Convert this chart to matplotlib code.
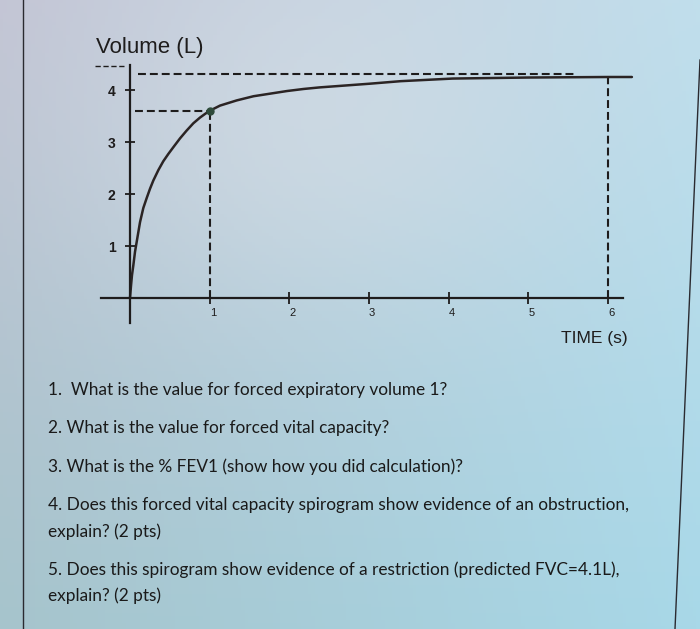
import numpy as np
import matplotlib.pyplot as plt
from matplotlib.lines import Line2D

# Spirogram
time_s = [0, 0.013, 0.025, 0.042, 0.063, 0.084, 0.105, 0.126, 0.167, 0.209, 0.251,
          0.293, 0.356, 0.418, 0.481, 0.544, 0.628, 0.711, 0.795, 0.879, 0.942, 1.0,
          1.13, 1.34, 1.55, 1.76, 1.97, 2.18, 2.38, 3.0, 3.4, 4.05, 5.0, 6.0, 6.3]
volume_l = [0, 0.24, 0.44, 0.63, 0.89, 1.08, 1.27, 1.46, 1.73, 1.92, 2.10,
            2.26, 2.46, 2.63, 2.77, 2.90, 3.07, 3.22, 3.36, 3.47, 3.54, 3.6,
            3.7, 3.8, 3.88, 3.93, 3.98, 4.02, 4.05, 4.12, 4.17, 4.22, 4.24, 4.25, 4.25]
fev1 = 3.6
fvc = 4.3
fvc_time = 6.0
x_ticks = [1, 2, 3, 4, 5, 6]
y_ticks = [1, 2, 3, 4]

questions = [
    "1.  What is the value for forced expiratory volume 1?",
    "2. What is the value for forced vital capacity?",
    "3. What is the % FEV1 (show how you did calculation)?",
    "4. Does this forced vital capacity spirogram show evidence of an obstruction,",
    "explain? (2 pts)",
    "5. Does this spirogram show evidence of a restriction (predicted FVC=4.1L),",
    "explain? (2 pts)",
]
question_rows = [390, 428, 467, 505, 532, 570, 596]

W, H = 700, 629
ink = "#1e1c1c"
narrow = ["Liberation Sans Narrow", "Liberation Sans", "DejaVu Sans"]

fig = plt.figure(figsize=(W / 100, H / 100), dpi=100)

# photo-like background
bg = fig.add_axes([0, 0, 1, 1])
gx = np.linspace(0, 1, 200)
gy = np.linspace(0, 1, 200)
X, Y = np.meshgrid(gx, gy)
tl = np.array([194, 196, 212]) / 255
tr = np.array([192, 222, 236]) / 255
bl = np.array([166, 196, 204]) / 255
br = np.array([168, 216, 232]) / 255
img = (tl[None, None] * ((1 - X) * (1 - Y))[..., None] + tr[None, None] * (X * (1 - Y))[..., None]
       + bl[None, None] * ((1 - X) * Y)[..., None] + br[None, None] * (X * Y)[..., None])
glow = np.exp(-(((X - 0.45) / 0.35) ** 2 + ((Y - 0.2) / 0.3) ** 2))[..., None]
img = img * (1 - 0.4 * glow) + 0.4 * glow * np.array([226, 230, 234])[None, None] / 255
bg.imshow(img, extent=[0, 1, 0, 1], aspect="auto", origin="upper")
bg.set_xlim(0, 1)
bg.set_ylim(0, 1)
bg.axis("off")

# frame edges of the sheet
fig.add_artist(Line2D([23 / W, 23 / W], [0, 1], color="#2a2a30", lw=1.0))
fig.add_artist(Line2D([700 / W, 675 / W], [1 - 60 / H, 0], color="#2a2a30", lw=1.0))

# chart axes: t=0 -> x 130px, t=6 -> x 608px; V=0 -> y 298px, V=4 -> y 90px
px_s = (608 - 130) / 6
px_l = (298 - 90) / 4
xmin, xmax = -0.6, 6.8
ymin, ymax = -0.7, 4.8
left = (130 + xmin * px_s) / W
bottom = (H - (298 - ymin * px_l)) / H
ax = fig.add_axes([left, bottom, (xmax - xmin) * px_s / W, (ymax - ymin) * px_l / H])
ax.set_xlim(xmin, xmax)
ax.set_ylim(ymin, ymax)
ax.patch.set_alpha(0)

for s in ["top", "right"]:
    ax.spines[s].set_visible(False)
ax.spines["left"].set_position(("data", 0))
ax.spines["bottom"].set_position(("data", 0))
ax.spines["left"].set_bounds(-0.48, 4.48)
ax.spines["bottom"].set_bounds(-0.36, 6.19)
for s in ["left", "bottom"]:
    ax.spines[s].set_color(ink)
    ax.spines[s].set_linewidth(1.6)

ax.set_xticks(x_ticks)
ax.set_xticklabels([str(t) for t in x_ticks], ha="left", family=narrow, fontsize=8, color=ink)
ax.set_yticks(y_ticks)
ax.set_yticklabels([str(t) for t in y_ticks], family=narrow, fontsize=10, fontweight="bold", color=ink)
ax.tick_params(axis="x", direction="inout", length=9, width=1.3, pad=3, colors=ink)
ax.tick_params(axis="y", direction="inout", length=7, width=1.3, pad=7, colors=ink)

dash = dict(color=ink, lw=1.5, dashes=(3.8, 1.9))
ax.plot([0.1, 5.6], [fvc, fvc], **dash)
ax.plot([0.06, 1], [fev1, fev1], **dash)
ax.plot([1, 1], [0, fev1], **dash)
ax.plot([fvc_time, fvc_time], [0, volume_l[time_s.index(fvc_time)]], **dash)
ax.plot([-0.44, -0.08], [4.46, 4.46], color=ink, lw=1.0, dashes=(3.8, 1.9))

ax.plot(time_s, volume_l, color="#2b2424", lw=1.8, solid_joinstyle="round", solid_capstyle="round")
ax.plot([1], [fev1], "o", color="#2e4a3a", ms=5)

fig.text(96 / W, 1 - 48 / H, "Volume (L)", family=narrow, fontsize=16, color=ink, va="center", ha="left")
fig.text(594 / W, 1 - 338 / H, "TIME (s)", family=narrow, fontsize=12.5, color=ink, va="center", ha="center")

for q, row in zip(questions, question_rows):
    fig.text(48 / W, 1 - row / H, q, family=["Lato", "DejaVu Sans"], fontsize=12.4,
             color="#1a1a1a", va="center", ha="left")

fig.savefig("out.png", dpi=100)
